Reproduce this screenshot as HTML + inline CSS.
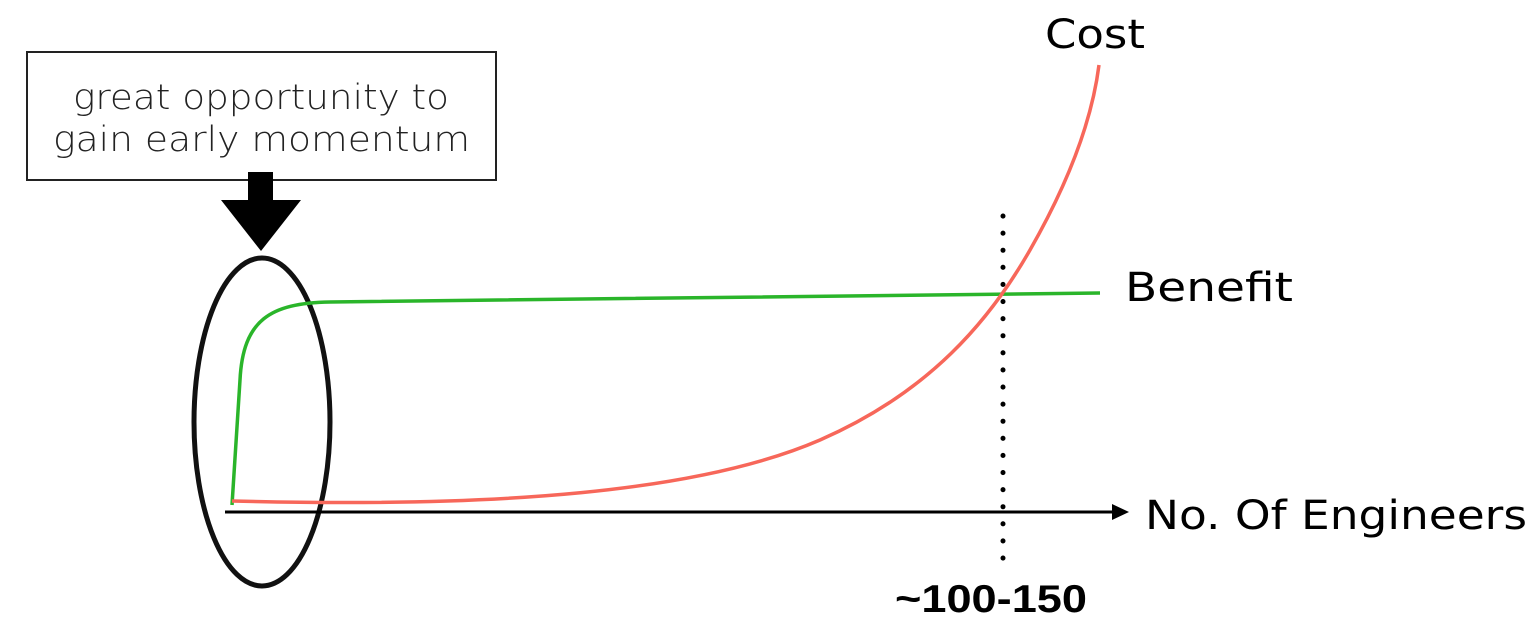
<!DOCTYPE html>
<html><head><style>body{margin:0;background:#fff}svg{display:block}</style></head><body>
<svg width="1536" height="640" xmlns="http://www.w3.org/2000/svg" font-family="DejaVu Sans, Liberation Sans, sans-serif">
<rect x="27" y="52" width="469" height="128" fill="#fff" stroke="#222" stroke-width="2"/>
<text x="73" y="109" font-size="35" textLength="376" lengthAdjust="spacingAndGlyphs" fill="#222" font-weight="300">great opportunity to</text>
<text x="53" y="151" font-size="35" textLength="417" lengthAdjust="spacingAndGlyphs" fill="#222" font-weight="300">gain early momentum</text>
<rect x="248" y="172" width="25" height="30" fill="#000"/>
<polygon points="221,200 301,200 261,251" fill="#000"/>
<ellipse cx="262" cy="422" rx="68" ry="164" fill="none" stroke="#111" stroke-width="5"/>
<line x1="225" y1="512" x2="1115" y2="512" stroke="#000" stroke-width="3"/>
<polygon points="1112,504 1129,512 1112,520" fill="#000"/>
<line x1="1003" y1="216" x2="1003" y2="560" stroke="#000" stroke-width="5" stroke-dasharray="0.1 17" stroke-linecap="round"/>
<path d="M232,505 L240,380 C243,320 270,303 330,302 L1100,293" fill="none" stroke="#2ab52a" stroke-width="3.5"/>
<path d="M232,501 C500,508 700,492 820,440 C930,392 990,320 1030,250 C1070,180 1092,120 1099,65" fill="none" stroke="#f7675a" stroke-width="3.5"/>
<text x="1045" y="48" font-size="40" textLength="100" lengthAdjust="spacingAndGlyphs" fill="#000">Cost</text>
<text x="1125" y="301" font-size="40" textLength="168" lengthAdjust="spacingAndGlyphs" fill="#000">Benefit</text>
<text x="1145" y="529" font-size="40" textLength="382" lengthAdjust="spacingAndGlyphs" fill="#000">No. Of Engineers</text>
<text x="895" y="612" font-size="39" font-weight="bold" textLength="192" lengthAdjust="spacingAndGlyphs" fill="#000" font-family="Liberation Sans, sans-serif">~100-150</text>
</svg>
</body></html>
